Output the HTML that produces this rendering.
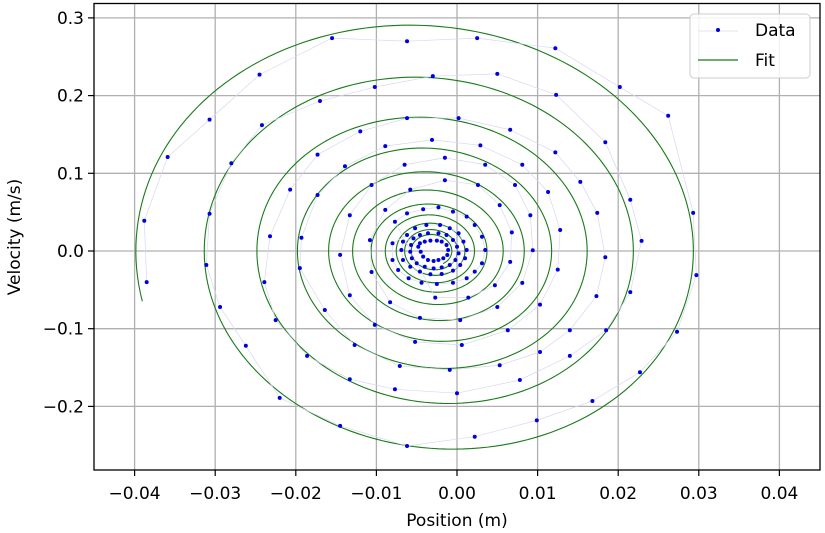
<!DOCTYPE html>
<html><head><meta charset="utf-8"><style>
body{margin:0;background:#fff;}
svg{display:block;font-family:"DejaVu Sans","Liberation Sans",sans-serif;}
</style></head><body>
<svg id="chart" width="825" height="533" viewBox="0 0 825 533" xmlns="http://www.w3.org/2000/svg">
<g id="grid"></g>
<g id="fit"></g>
<g id="data"></g>
<rect x="94" y="3.5" width="726" height="466.5" fill="none" stroke="#000" stroke-width="1.3"/>
<g id="ticks"></g>
<text x="457" y="526" text-anchor="middle" font-size="17">Position (m)</text>
<text transform="translate(20,237) rotate(-90)" text-anchor="middle" font-size="17">Velocity (m/s)</text>
<g>
<rect x="690" y="14" width="120" height="64" rx="4" fill="#fff" fill-opacity="0.85" stroke="#ccc"/>
<line x1="698" y1="31" x2="738" y2="31" stroke="#ccd" stroke-width="0.6"/>
<circle cx="718" cy="30" r="2" fill="#0000dd"/>
<text x="755" y="36" font-size="17">Data</text>
<line x1="698" y1="60" x2="738" y2="60" stroke="#1a7a1a" stroke-width="1.2"/>
<text x="755" y="66" font-size="17">Fit</text>
</g>
</svg>
<script>
const xTicks=[-0.04,-0.03,-0.02,-0.01,0.00,0.01,0.02,0.03,0.04];
const xTickLabels=["\u22120.04","\u22120.03","\u22120.02","\u22120.01","0.00","0.01","0.02","0.03","0.04"];
const yTicks=[-0.2,-0.1,0.0,0.1,0.2,0.3];
const yTickLabels=["\u22120.2","\u22120.1","0.0","0.1","0.2","0.3"];
const dataX=[-0.0385,-0.0388,-0.0359,-0.0307,-0.0245,-0.0155,-0.0062,0.0025,0.0122,0.0202,0.0262,0.0293,0.0297,0.0273,0.0227,0.0168,0.0099,0.0022,-0.0062,-0.0145,-0.0220,-0.0262,-0.0294,-0.0311,-0.0307,-0.0280,-0.0242,-0.0170,-0.0102,-0.0030,0.0050,0.0123,0.0184,0.0215,0.0229,0.0215,0.0185,0.0140,0.0078,0.0000,-0.0077,-0.0133,-0.0186,-0.0225,-0.0239,-0.0232,-0.0207,-0.0173,-0.0120,-0.0062,0.0002,0.0066,0.0122,0.0153,0.0174,0.0184,0.0173,0.0140,0.0103,0.0053,-0.0009,-0.0071,-0.0127,-0.0164,-0.0195,-0.0193,-0.0173,-0.0139,-0.0089,-0.0031,0.0029,0.0081,0.0113,0.0128,0.0125,0.0103,0.0063,0.0006,-0.0052,-0.0102,-0.0133,-0.0145,-0.0133,-0.0106,-0.0065,-0.0015,0.0035,0.0072,0.0091,0.0094,0.0081,0.0050,0.0004,-0.0046,-0.0083,-0.0106,-0.0108,-0.0089,-0.0058,-0.0015,0.0026,0.0053,0.0068,0.0066,0.0047,0.0014,-0.0027,
-0.0077,-0.0062,-0.0042,-0.0023,-0.0005,0.0012,0.0022,0.0031,0.0035,0.0031,0.0022,0.0012,-0.0005,-0.0025,-0.0044,-0.0060,-0.0073,-0.0080,-0.0080,
-0.0062,-0.0052,-0.0038,-0.0021,-0.0009,0.0002,0.0008,0.0012,0.0010,0.0004,-0.0005,-0.0019,-0.0033,-0.0046,-0.0058,-0.0067,-0.0069,-0.0067,
-0.0054,-0.0046,-0.0036,-0.0023,-0.0013,-0.0005,0.0000,0.0002,-0.0002,-0.0009,-0.0019,-0.0029,-0.0040,-0.0050,-0.0056,-0.0058,-0.0057,
-0.0046,-0.0040,-0.0033,-0.0025,-0.0019,-0.0013,-0.0011,-0.0012,-0.0017,-0.0023,-0.0029,-0.0036,-0.0042,-0.0045,-0.0048];
const dataV=[-0.040,0.039,0.121,0.169,0.227,0.274,0.270,0.274,0.261,0.211,0.174,0.049,-0.031,-0.104,-0.156,-0.193,-0.218,-0.239,-0.251,-0.225,-0.189,-0.122,-0.072,-0.018,0.048,0.113,0.162,0.193,0.211,0.225,0.228,0.201,0.140,0.066,0.013,-0.053,-0.102,-0.135,-0.166,-0.183,-0.178,-0.165,-0.135,-0.089,-0.040,0.019,0.079,0.124,0.154,0.171,0.171,0.156,0.127,0.089,0.049,-0.008,-0.058,-0.102,-0.130,-0.147,-0.153,-0.148,-0.121,-0.076,-0.022,0.017,0.072,0.109,0.135,0.143,0.136,0.111,0.076,0.027,-0.024,-0.069,-0.102,-0.121,-0.117,-0.095,-0.057,-0.005,0.046,0.085,0.111,0.120,0.111,0.085,0.046,0.001,-0.041,-0.072,-0.089,-0.086,-0.066,-0.027,0.014,0.053,0.079,0.091,0.085,0.059,0.024,-0.014,-0.044,-0.060,-0.060,
0.0377,0.0485,0.0537,0.0562,0.0506,0.0442,0.0335,0.0184,0.0013,-0.0158,-0.0266,-0.0351,-0.0408,-0.0425,-0.0408,-0.0351,-0.0244,-0.0116,0.0099,
0.0206,0.0292,0.0335,0.0335,0.0292,0.0228,0.0120,0.0013,-0.0094,-0.0180,-0.0253,-0.0296,-0.0300,-0.0266,-0.0202,-0.0116,0.0013,0.0120,
0.0163,0.0206,0.0228,0.0228,0.0206,0.0142,0.0055,-0.0030,-0.0116,-0.0180,-0.0210,-0.0223,-0.0202,-0.0158,-0.0094,-0.0009,0.0077,
0.0099,0.0120,0.0133,0.0133,0.0120,0.0077,0.0013,-0.0051,-0.0094,-0.0116,-0.0129,-0.0116,-0.0073,-0.0009,0.0055];
// fit model parameters (damped oscillator)
const fitOffset=-0.003, fitAmp=0.0372, fitGamma=0.35, fitOmega=8.4, fitPhase0=Math.PI-0.25, fitDuration=8.0;

const NS="http://www.w3.org/2000/svg";
const X0=94,X1=820,Y0=3.5,Y1=470;
const sx=v=>457+v*8060;
const sy=v=>251-v*777;
function mk(tag,attrs,parent){const e=document.createElementNS(NS,tag);for(const k in attrs)e.setAttribute(k,attrs[k]);parent.appendChild(e);return e;}
const grid=document.getElementById('grid'),ticks=document.getElementById('ticks');
xTicks.forEach((t,i)=>{const x=sx(t);
 const g=mk('line',{x1:x,x2:x,y1:Y0,y2:Y1,stroke:'#b0b0b0','stroke-width':1.3},grid);
 
 
 const tk=mk('line',{x1:x,x2:x,y1:Y1,y2:Y1+6,stroke:'#000','stroke-width':1.2},ticks);
 
 
 const tx=mk('text',{x:x,y:Y1+29,'text-anchor':'middle','font-size':17},ticks);tx.textContent=xTickLabels[i];
 
 
});
yTicks.forEach((t,i)=>{const y=sy(t);
 const g=mk('line',{x1:X0,x2:X1,y1:y,y2:y,stroke:'#b0b0b0','stroke-width':1.3},grid);
 
 
 const tk=mk('line',{x1:X0-6,x2:X0,y1:y,y2:y,stroke:'#000','stroke-width':1.2},ticks);
 
 
 const tx=mk('text',{x:X0-10,y:y+6,'text-anchor':'end','font-size':17},ticks);tx.textContent=yTickLabels[i];
 
 
});
// fit curve
let pts=[];const N=2000;
for(let i=0;i<=N;i++){const t=fitDuration*i/N;const e=Math.exp(-fitGamma*t);const ph=fitPhase0+fitOmega*t;
 const x=fitOffset+fitAmp*e*Math.cos(ph);const v=fitAmp*e*(-fitOmega*Math.sin(ph)-fitGamma*Math.cos(ph));
 pts.push(sx(x).toFixed(2)+','+sy(v).toFixed(2));}
const fl=mk('polyline',{points:pts.join(' '),fill:'none',stroke:'#1a7a1a','stroke-width':1.1},document.getElementById('fit'));


// data
const dg=document.getElementById('data');
const dl=mk('polyline',{points:dataX.map((x,i)=>sx(x)+','+sy(dataV[i])).join(' '),fill:'none',stroke:'#d8d8f0','stroke-width':0.7},dg);


dataX.forEach((x,i)=>{const c=mk('circle',{cx:sx(x),cy:sy(dataV[i]),r:2,fill:'#0000dd'},dg);
 
 });
</script>
</body></html>
